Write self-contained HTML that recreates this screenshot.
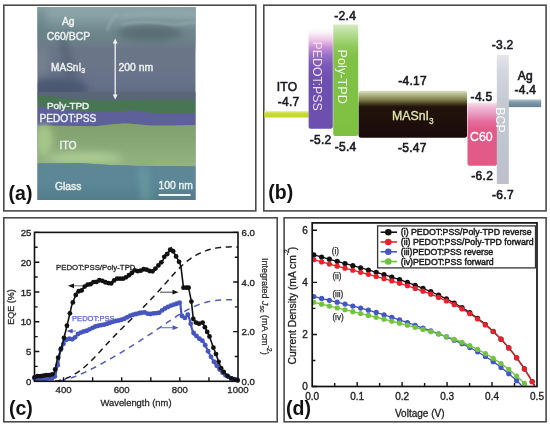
<!DOCTYPE html>
<html><head><meta charset="utf-8"><title>Figure</title><style>
html,body{margin:0;padding:0;background:#fff;}
svg{display:block;}
</style></head><body>
<svg width="550" height="430" viewBox="0 0 550 430">
<rect width="550" height="430" fill="#ffffff"/>
<g fill='none' stroke='#4a4a4a' stroke-width='1.6'><rect x='3.8' y='5.2' width='252' height='205.7'/><rect x='263.8' y='5.2' width='282.3' height='205.7'/><rect x='3.8' y='217.8' width='273.4' height='204'/><rect x='284.1' y='217.8' width='262' height='204'/></g>
<text x='8.6' y='199.6' font-family='Liberation Sans, Arial, sans-serif' font-weight='bold' font-size='19.5' fill='#111'>(a)</text>
<text x='268.3' y='199.4' font-family='Liberation Sans, Arial, sans-serif' font-weight='bold' font-size='19.5' fill='#111'>(b)</text>
<text x='8.9' y='415.1' font-family='Liberation Sans, Arial, sans-serif' font-weight='bold' font-size='19.5' fill='#111'>(c)</text>
<text x='286.0' y='415.1' font-family='Liberation Sans, Arial, sans-serif' font-weight='bold' font-size='19.5' fill='#111'>(d)</text>
<defs><linearGradient id='gTop' x1='0' y1='0' x2='0' y2='1'><stop offset='0' stop-color='#8ea6aa'/><stop offset='0.17' stop-color='#8aa2a6'/><stop offset='0.35' stop-color='#7c959a'/><stop offset='0.52' stop-color='#6e878c'/><stop offset='0.7' stop-color='#6c8289'/><stop offset='0.84' stop-color='#6c7d88' stop-opacity='0.8'/><stop offset='1' stop-color='#6a7588' stop-opacity='0'/></linearGradient><linearGradient id='gMA' x1='0' y1='0' x2='0' y2='1'><stop offset='0' stop-color='#6a7588'/><stop offset='0.3' stop-color='#6a7588'/><stop offset='0.4' stop-color='#66718a'/><stop offset='0.47' stop-color='#5c687c'/><stop offset='0.5' stop-color='#66718a'/><stop offset='1' stop-color='#66718a'/></linearGradient><linearGradient id='gITO' x1='0' y1='0' x2='0' y2='1'><stop offset='0' stop-color='#80a06e'/><stop offset='0.4' stop-color='#86a674'/><stop offset='0.75' stop-color='#8eae7c'/><stop offset='1' stop-color='#94b482'/></linearGradient><linearGradient id='gGl' x1='0' y1='0' x2='0' y2='1'><stop offset='0' stop-color='#5c8896'/><stop offset='0.5' stop-color='#5c8796'/><stop offset='1' stop-color='#527e8c'/></linearGradient></defs>
<rect x='37.5' y='7' width='158.0' height='193' fill='url(#gMA)'/>
<rect x='37.5' y='7' width='158.0' height='46' fill='url(#gTop)'/>
<defs><filter id='bl2' x='-20%' y='-50%' width='140%' height='200%'><feGaussianBlur stdDeviation='2.2'/></filter><filter id='bl3' x='-30%' y='-80%' width='160%' height='260%'><feGaussianBlur stdDeviation='3.5'/></filter><filter id='bl1' x='-20%' y='-50%' width='140%' height='200%'><feGaussianBlur stdDeviation='1.2'/></filter><clipPath id='cpa'><rect x='37.5' y='7' width='158.0' height='193'/></clipPath></defs>
<g clip-path='url(#cpa)'>
<rect x='30' y='6' width='170' height='8' fill='#8aa2a6' opacity='0.65' filter='url(#bl1)'/>
<ellipse cx='42' cy='62' rx='7' ry='16' fill='#76828f' opacity='0.9' filter='url(#bl3)'/>
<polygon points='58,38 66,38 78,80 66,80' fill='#4c586c' opacity='0.55' filter='url(#bl3)'/>
<ellipse cx='58' cy='89' rx='30' ry='11' fill='#4a5670' opacity='0.9' filter='url(#bl3)'/>
<ellipse cx='40' cy='22' rx='7' ry='14' fill='#5d7a80' opacity='0.45' filter='url(#bl3)'/>
<path d='M120,14 C135,9 150,12 165,10 C178,9 188,11 200,10 L200,18 C185,19 170,17 150,17 C138,17 128,18 120,20 Z' fill='#93aaad' opacity='0.45' filter='url(#bl1)'/>
<ellipse cx='150' cy='33' rx='32' ry='8' fill='#566a72' opacity='0.85' filter='url(#bl3)'/>
<path d='M107,31 C109,23 112,17 119,14 M121,25 C140,20 158,22 174,25 C184,24 191,22 200,22' fill='none' stroke='#9ab0b2' stroke-width='2.6' opacity='0.6' filter='url(#bl1)'/>
<polygon points='30,92 200,92 200,100 160,100 130,100.3 100,100.2 80,99.2 65,98 50,96.5 37.5,95.5 30,95.5' fill='#5a6678'/>
<polygon points='30,95.5 37.5,95.5 50,96.5 65,98 80,99.2 100,100.2 130,100.3 160,100 200,100 200,113.2 170,113.2 150,113 140,111.5 132,110.3 125,111 115,112.2 90,111.5 70,110 55,109 45,107.5 37.5,106.5 30,106.5' fill='#487655'/>
<polygon points='30,106.5 37.5,106.5 45,107.5 55,109 70,110 90,111.5 115,112.2 125,111 132,110.3 140,111.5 150,113 170,113.2 200,113.2 200,125 170,125.4 150,125.6 140,124.5 125,123.2 110,124.5 95,126.2 80,126 60,125.8 37.5,125.5 30,125.5' fill='#5e609a'/>
<polygon points='30,125.5 37.5,125.5 60,125.8 80,126 95,126.2 110,124.5 125,123.2 140,124.5 150,125.6 170,125.4 200,125 200,166.5 170,166.3 140,166 110,165 80,163.1 37.5,163.5 30,163.5' fill='url(#gITO)'/>
<ellipse cx='44' cy='140' rx='9' ry='16' fill='#a6c68a' opacity='1' filter='url(#bl3)'/>
<ellipse cx='85' cy='158' rx='38' ry='6' fill='#aacb92' opacity='1' filter='url(#bl3)'/>
<polygon points='30,163.5 37.5,163.5 80,163.1 110,165 140,166 170,166.3 200,166.5 200,200 30,200' fill='url(#gGl)'/>
<path d='M137,167 L148,167 L152,200 L141,200 Z' fill='#6a9aa0' opacity='0.8' filter='url(#bl3)'/>
</g>
<text x='62' y='25.1' font-family='Liberation Sans, Arial, sans-serif' font-size='10.3' fill='#eef3f2' stroke='#eef3f2' stroke-width='0.4' >Ag</text>
<text x='46.8' y='40.3' font-family='Liberation Sans, Arial, sans-serif' font-size='10.4' fill='#eef3f2' stroke='#eef3f2' stroke-width='0.4' >C60/BCP</text>
<text x='118.5' y='70.8' font-family='Liberation Sans, Arial, sans-serif' font-size='10.4' fill='#eef3f2' stroke='#eef3f2' stroke-width='0.4' >200 nm</text>
<text x='47' y='109.4' font-family='Liberation Sans, Arial, sans-serif' font-size='9.9' fill='#eef3f2' stroke='#eef3f2' stroke-width='0.4' >Poly-TPD</text>
<text x='39.6' y='122' font-family='Liberation Sans, Arial, sans-serif' font-size='10.1' fill='#eef3f2' stroke='#eef3f2' stroke-width='0.4' >PEDOT:PSS</text>
<text x='59.6' y='148.6' font-family='Liberation Sans, Arial, sans-serif' font-size='10.3' fill='#eef3f2' stroke='#eef3f2' stroke-width='0.4' >ITO</text>
<text x='55' y='189.8' font-family='Liberation Sans, Arial, sans-serif' font-size='10.3' fill='#eef3f2' stroke='#eef3f2' stroke-width='0.4' >Glass</text>
<text x='158.5' y='189.4' font-family='Liberation Sans, Arial, sans-serif' font-size='10.3' fill='#eef3f2' stroke='#eef3f2' stroke-width='0.4' >100 nm</text>
<text x='51' y='71.2' font-family='Liberation Sans, Arial, sans-serif' font-size='10.1' fill='#eef3f2' stroke='#eef3f2' stroke-width='0.4' >MASnI<tspan font-size='6.8' dy='2'>3</tspan></text>
<line x1='115.2' y1='41' x2='115.2' y2='97' stroke='#f2f4f4' stroke-width='1.3'/>
<polygon points='115.2,38.5 112.8,43.5 117.6,43.5' fill='#f2f4f4'/>
<polygon points='115.2,99.5 112.8,94.5 117.6,94.5' fill='#f2f4f4'/>
<rect x='158.6' y='194' width='32' height='2' fill='#f2f4f4'/>
<defs><linearGradient id='gPed' x1='0' y1='0' x2='0' y2='1'><stop offset='0' stop-color='#ffffff'/><stop offset='0.05' stop-color='#fbf0f8'/><stop offset='0.12' stop-color='#ecc6e6'/><stop offset='0.19' stop-color='#c890d6'/><stop offset='0.27' stop-color='#9670c8'/><stop offset='0.37' stop-color='#7a58b8'/><stop offset='0.51' stop-color='#6c50b0'/><stop offset='1' stop-color='#6b50b0'/></linearGradient><linearGradient id='gTpd' x1='0' y1='0' x2='0' y2='1'><stop offset='0' stop-color='#d4eabf'/><stop offset='0.1' stop-color='#b0da8a'/><stop offset='0.2' stop-color='#8ec95a'/><stop offset='0.3' stop-color='#80c145'/><stop offset='1' stop-color='#7ec142'/></linearGradient><linearGradient id='gMas' x1='0' y1='0' x2='0' y2='1'><stop offset='0' stop-color='#dcdfc8'/><stop offset='0.06' stop-color='#c0c49a'/><stop offset='0.13' stop-color='#9ea070'/><stop offset='0.2' stop-color='#7c7c48'/><stop offset='0.27' stop-color='#4a4424'/><stop offset='0.34' stop-color='#22140c'/><stop offset='1' stop-color='#1a0a0a'/></linearGradient><linearGradient id='gC60' x1='0' y1='0' x2='0' y2='1'><stop offset='0' stop-color='#f8dce8'/><stop offset='0.08' stop-color='#f0b8d4'/><stop offset='0.2' stop-color='#e892ba'/><stop offset='0.3' stop-color='#e46c9a'/><stop offset='0.42' stop-color='#e25a88'/><stop offset='1' stop-color='#e25a86'/></linearGradient><linearGradient id='gBcp' x1='0' y1='0' x2='0' y2='1'><stop offset='0' stop-color='#e4e6ea'/><stop offset='0.12' stop-color='#d4d7de'/><stop offset='0.35' stop-color='#c6cad3'/><stop offset='1' stop-color='#bcc0cb'/></linearGradient><linearGradient id='gAg' x1='0' y1='0' x2='0' y2='1'><stop offset='0' stop-color='#c4d0d8'/><stop offset='0.3' stop-color='#8aa0ae'/><stop offset='0.6' stop-color='#7490a0'/><stop offset='1' stop-color='#66818f'/></linearGradient></defs>
<defs><linearGradient id='gIto' x1='0' y1='0' x2='0' y2='1'><stop offset='0' stop-color='#e4eea8'/><stop offset='0.35' stop-color='#cbdc34'/><stop offset='1' stop-color='#c3d626'/></linearGradient></defs>
<rect x='264.3' y='111.1' width='44.3' height='6.4' fill='url(#gIto)'/>
<path d='M308.6,28 H332.8 V126.8 a2,2 0 0 1 -2,2 H310.6 a2,2 0 0 1 -2,-2 Z' fill='url(#gPed)'/>
<path d='M333.2,24.6 H358.2 V134 a2,2 0 0 1 -2,2 H335.2 a2,2 0 0 1 -2,-2 Z' fill='url(#gTpd)'/>
<rect x='358.6' y='90.7' width='108.4' height='47' rx='2.5' fill='url(#gMas)'/>
<path d='M467.5,102.7 H497 V163.8 a2,2 0 0 1 -2,2 H469.5 a2,2 0 0 1 -2,-2 Z' fill='url(#gC60)'/>
<rect x='496.8' y='55' width='12' height='129' fill='url(#gBcp)'/>
<rect x='508.8' y='99.3' width='32.4' height='7.8' fill='url(#gAg)'/>
<text x='334.3' y='20.3' font-family='Liberation Sans, Arial, sans-serif' font-size='12' fill='#1a1a22' stroke='#1a1a22' stroke-width='0.6' letter-spacing='0.3'>-2.4</text>
<text x='276.7' y='90.6' font-family='Liberation Sans, Arial, sans-serif' font-size='12' fill='#1a1a22' stroke='#1a1a22' stroke-width='0.6' letter-spacing='0.3'>ITO</text>
<text x='277.7' y='105.8' font-family='Liberation Sans, Arial, sans-serif' font-size='12' fill='#1a1a22' stroke='#1a1a22' stroke-width='0.6' letter-spacing='0.3'>-4.7</text>
<text x='309.7' y='143.9' font-family='Liberation Sans, Arial, sans-serif' font-size='12' fill='#1a1a22' stroke='#1a1a22' stroke-width='0.6' letter-spacing='0.3'>-5.2</text>
<text x='334.7' y='150.8' font-family='Liberation Sans, Arial, sans-serif' font-size='12' fill='#1a1a22' stroke='#1a1a22' stroke-width='0.6' letter-spacing='0.3'>-5.4</text>
<text x='398.2' y='85.2' font-family='Liberation Sans, Arial, sans-serif' font-size='12' fill='#1a1a22' stroke='#1a1a22' stroke-width='0.6' letter-spacing='0.3'>-4.17</text>
<text x='397.9' y='151.6' font-family='Liberation Sans, Arial, sans-serif' font-size='12' fill='#1a1a22' stroke='#1a1a22' stroke-width='0.6' letter-spacing='0.3'>-5.47</text>
<text x='470.6' y='100.6' font-family='Liberation Sans, Arial, sans-serif' font-size='12' fill='#1a1a22' stroke='#1a1a22' stroke-width='0.6' letter-spacing='0.3'>-4.5</text>
<text x='491.7' y='49' font-family='Liberation Sans, Arial, sans-serif' font-size='12' fill='#1a1a22' stroke='#1a1a22' stroke-width='0.6' letter-spacing='0.3'>-3.2</text>
<text x='517.7' y='80.2' font-family='Liberation Sans, Arial, sans-serif' font-size='12' fill='#1a1a22' stroke='#1a1a22' stroke-width='0.6' letter-spacing='0.3'>Ag</text>
<text x='514.4' y='94.4' font-family='Liberation Sans, Arial, sans-serif' font-size='12' fill='#1a1a22' stroke='#1a1a22' stroke-width='0.6' letter-spacing='0.3'>-4.4</text>
<text x='471.3' y='180.3' font-family='Liberation Sans, Arial, sans-serif' font-size='12' fill='#1a1a22' stroke='#1a1a22' stroke-width='0.6' letter-spacing='0.3'>-6.2</text>
<text x='492' y='199.3' font-family='Liberation Sans, Arial, sans-serif' font-size='12' fill='#1a1a22' stroke='#1a1a22' stroke-width='0.6' letter-spacing='0.3'>-6.7</text>
<text x='392.1' y='120.1' font-family='Liberation Sans, Arial, sans-serif' font-size='12.3' fill='#e2e8ae' stroke='#e2e8ae' stroke-width='0.3' >MASnI<tspan font-size='8.2' dy='3.6'>3</tspan></text>
<text x='470' y='141' font-family='Liberation Sans, Arial, sans-serif' font-size='12.4' fill='#ffffff' stroke='#ffffff' stroke-width='0.3' >C60</text>
<text transform='translate(496.3,107.2) rotate(90)' font-family='Liberation Sans, Arial, sans-serif' font-size='12.4' fill='#ffffff'>BCP</text>
<text transform='translate(313.4,41.6) rotate(90)' font-family='Liberation Sans, Arial, sans-serif' font-size='12.3' fill='#f4dcf2'>PEDOT:PSS</text>
<text transform='translate(337.6,49.6) rotate(90)' font-family='Liberation Sans, Arial, sans-serif' font-size='12.7' fill='#f2f8ea'>Poly-TPD</text>
<polyline points='55,381.29 55.84,381.16 56.67,381.02 57.51,380.87 58.34,380.69 59.18,380.51 60.01,380.31 60.85,380.09 61.68,379.86 62.52,379.62 63.36,379.36 64.19,379.08 65.03,378.78 65.86,378.48 66.7,378.15 67.53,377.81 68.37,377.45 69.21,377.08 70.04,376.68 70.88,376.27 71.71,375.85 72.55,375.4 73.38,374.94 74.22,374.46 75.05,373.97 75.89,373.45 76.73,372.92 77.56,372.37 78.4,371.8 79.23,371.21 80.07,370.6 80.9,369.97 81.74,369.33 82.58,368.66 83.41,367.98 84.25,367.27 85.08,366.55 85.92,365.81 86.75,365.06 87.59,364.29 88.42,363.51 89.26,362.71 90.1,361.9 90.93,361.07 91.77,360.24 92.6,359.39 93.44,358.54 94.27,357.67 95.11,356.79 95.95,355.91 96.78,355.02 97.62,354.12 98.45,353.22 99.29,352.31 100.12,351.4 100.96,350.49 101.79,349.57 102.63,348.66 103.47,347.74 104.3,346.82 105.14,345.91 105.97,344.99 106.81,344.08 107.64,343.18 108.48,342.28 109.32,341.38 110.15,340.49 110.99,339.6 111.82,338.72 112.66,337.85 113.49,336.98 114.33,336.11 115.16,335.25 116,334.39 116.84,333.54 117.67,332.69 118.51,331.84 119.34,331 120.18,330.16 121.01,329.32 121.85,328.49 122.68,327.66 123.52,326.83 124.36,326 125.19,325.17 126.03,324.35 126.86,323.52 127.7,322.7 128.53,321.88 129.37,321.06 130.21,320.24 131.04,319.41 131.88,318.59 132.71,317.77 133.55,316.95 134.38,316.13 135.22,315.31 136.05,314.49 136.89,313.66 137.73,312.83 138.56,312.01 139.4,311.18 140.23,310.34 141.07,309.51 141.9,308.67 142.74,307.83 143.58,306.99 144.41,306.15 145.25,305.3 146.08,304.44 146.92,303.59 147.75,302.73 148.59,301.86 149.42,300.99 150.26,300.12 151.1,299.24 151.93,298.35 152.77,297.47 153.6,296.57 154.44,295.67 155.27,294.77 156.11,293.86 156.95,292.95 157.78,292.03 158.62,291.11 159.45,290.18 160.29,289.25 161.12,288.32 161.96,287.39 162.79,286.45 163.63,285.5 164.47,284.56 165.3,283.61 166.14,282.65 166.97,281.7 167.81,280.74 168.64,279.79 169.48,278.84 170.32,277.89 171.15,276.94 171.99,276 172.82,275.06 173.66,274.14 174.49,273.22 175.33,272.31 176.16,271.42 177,270.53 177.84,269.66 178.67,268.81 179.51,267.97 180.34,267.15 181.18,266.35 182.01,265.56 182.85,264.8 183.68,264.06 184.52,263.33 185.36,262.63 186.19,261.94 187.03,261.27 187.86,260.62 188.7,259.99 189.53,259.38 190.37,258.79 191.21,258.21 192.04,257.65 192.88,257.11 193.71,256.58 194.55,256.07 195.38,255.58 196.22,255.11 197.05,254.65 197.89,254.2 198.73,253.78 199.56,253.36 200.4,252.97 201.23,252.58 202.07,252.22 202.9,251.86 203.74,251.52 204.58,251.2 205.41,250.89 206.25,250.59 207.08,250.31 207.92,250.04 208.75,249.78 209.59,249.54 210.42,249.3 211.26,249.08 212.1,248.88 212.93,248.68 213.77,248.5 214.6,248.32 215.44,248.16 216.27,248.01 217.11,247.87 217.95,247.74 218.78,247.62 219.62,247.51 220.45,247.42 221.29,247.33 222.12,247.25 222.96,247.17 223.79,247.11 224.63,247.06 225.47,247.01 226.3,246.97 227.14,246.94 227.97,246.91 228.81,246.89 229.64,246.88 230.48,246.87 231.32,246.87 232.15,246.87 232.99,246.88 233.82,246.89 234.66,246.91 235.49,246.93 236.33,246.95 237.16,246.98 238,247.01' fill='none' stroke='#1a1a1a' stroke-width='1.5' stroke-dasharray='6 4.6'/>
<polyline points='60,380.87 60.81,380.72 61.63,380.55 62.44,380.38 63.25,380.2 64.06,380.01 64.88,379.8 65.69,379.59 66.5,379.37 67.32,379.14 68.13,378.9 68.94,378.65 69.75,378.4 70.57,378.13 71.38,377.86 72.19,377.58 73,377.29 73.82,377 74.63,376.7 75.44,376.39 76.26,376.07 77.07,375.75 77.88,375.42 78.69,375.08 79.51,374.74 80.32,374.39 81.13,374.03 81.95,373.67 82.76,373.31 83.57,372.93 84.38,372.56 85.2,372.17 86.01,371.79 86.82,371.4 87.63,371 88.45,370.6 89.26,370.2 90.07,369.79 90.89,369.38 91.7,368.96 92.51,368.54 93.32,368.12 94.14,367.69 94.95,367.27 95.76,366.83 96.58,366.4 97.39,365.97 98.2,365.53 99.01,365.09 99.83,364.65 100.64,364.2 101.45,363.76 102.26,363.31 103.08,362.86 103.89,362.41 104.7,361.96 105.52,361.51 106.33,361.05 107.14,360.6 107.95,360.14 108.77,359.68 109.58,359.22 110.39,358.76 111.21,358.29 112.02,357.83 112.83,357.36 113.64,356.89 114.46,356.42 115.27,355.95 116.08,355.47 116.89,355 117.71,354.52 118.52,354.04 119.33,353.56 120.15,353.08 120.96,352.6 121.77,352.11 122.58,351.62 123.4,351.14 124.21,350.65 125.02,350.15 125.84,349.66 126.65,349.17 127.46,348.67 128.27,348.17 129.09,347.67 129.9,347.17 130.71,346.67 131.53,346.16 132.34,345.66 133.15,345.15 133.96,344.64 134.78,344.13 135.59,343.62 136.4,343.1 137.21,342.59 138.03,342.07 138.84,341.55 139.65,341.03 140.47,340.51 141.28,339.99 142.09,339.46 142.9,338.94 143.72,338.41 144.53,337.88 145.34,337.35 146.16,336.81 146.97,336.28 147.78,335.74 148.59,335.21 149.41,334.67 150.22,334.12 151.03,333.58 151.84,333.04 152.66,332.49 153.47,331.95 154.28,331.4 155.1,330.85 155.91,330.29 156.72,329.74 157.53,329.19 158.35,328.63 159.16,328.07 159.97,327.51 160.79,326.95 161.6,326.39 162.41,325.83 163.22,325.27 164.04,324.71 164.85,324.15 165.66,323.59 166.47,323.03 167.29,322.47 168.1,321.91 168.91,321.36 169.73,320.81 170.54,320.26 171.35,319.71 172.16,319.17 172.98,318.63 173.79,318.09 174.6,317.55 175.42,317.02 176.23,316.5 177.04,315.98 177.85,315.46 178.67,314.95 179.48,314.44 180.29,313.94 181.11,313.45 181.92,312.96 182.73,312.48 183.54,312 184.36,311.54 185.17,311.08 185.98,310.62 186.79,310.18 187.61,309.74 188.42,309.31 189.23,308.89 190.05,308.48 190.86,308.08 191.67,307.68 192.48,307.3 193.3,306.92 194.11,306.56 194.92,306.2 195.74,305.85 196.55,305.51 197.36,305.18 198.17,304.86 198.99,304.55 199.8,304.26 200.61,303.97 201.42,303.69 202.24,303.42 203.05,303.16 203.86,302.91 204.68,302.67 205.49,302.44 206.3,302.22 207.11,302.02 207.93,301.82 208.74,301.63 209.55,301.46 210.37,301.3 211.18,301.14 211.99,301 212.8,300.86 213.62,300.74 214.43,300.62 215.24,300.52 216.05,300.42 216.87,300.33 217.68,300.25 218.49,300.17 219.31,300.11 220.12,300.05 220.93,300 221.74,299.95 222.56,299.91 223.37,299.88 224.18,299.86 225,299.84 225.81,299.82 226.62,299.81 227.43,299.81 228.25,299.81 229.06,299.81 229.87,299.82 230.68,299.83 231.5,299.85 232.31,299.87 233.12,299.89 233.94,299.92 234.75,299.95 235.56,299.98 236.37,300.01 237.19,300.04 238,300.08' fill='none' stroke='#4e5bc0' stroke-width='1.5' stroke-dasharray='6 5'/>
<polyline points='34.4,378.4 38.8,378.4 43.3,379.3 47.7,378.4 52.1,378.4 55.4,376.2 56.5,369.6 58.3,362.9 59.8,353 60.9,348.6 63.1,345.2 64.4,340.8 68.8,338.6 73.3,339.5 77.7,334.2 82.1,332 86.5,330.9 90.9,328.7 95.4,326.5 99.8,325.4 104.9,324.5 109.8,322.8 114.7,321.2 119.6,320.4 124.5,318.7 129.5,316 134.4,314.3 139.3,313.3 144.2,312.2 149.1,314.3 154,313.3 158.9,313 163,309.7 167.1,307.3 172,305.1 176.1,304 180.2,302.4 181.6,315.6 182.8,316.7 185.1,318 188.1,314.4 189.8,320.2 192.1,329.5 194.4,334.9 197.4,336.5 199.4,338.8 203.2,341.3 205.8,346.5 208.3,351.6 210.9,356.7 214.7,363.1 218.6,368.2 222.4,372.5 226.2,375.8 231.3,378.4 236.5,379.7 238,380' fill='none' stroke='#4755bf' stroke-width='2.2'/>
<g fill='#4755bf'><circle cx='34.5' cy='378.4' r='2.45'/><circle cx='37.4' cy='378.4' r='2.45'/><circle cx='40.3' cy='378.7' r='2.45'/><circle cx='43.2' cy='379.28' r='2.45'/><circle cx='46.1' cy='378.73' r='2.45'/><circle cx='49' cy='378.4' r='2.45'/><circle cx='51.9' cy='378.4' r='2.45'/><circle cx='54.8' cy='376.6' r='2.45'/><circle cx='57.7' cy='365.13' r='2.45'/><circle cx='60.6' cy='349.8' r='2.45'/><circle cx='63.5' cy='343.85' r='2.45'/><circle cx='66.4' cy='339.8' r='2.45'/><circle cx='69.3' cy='338.7' r='2.45'/><circle cx='72.2' cy='339.28' r='2.45'/><circle cx='75.1' cy='337.33' r='2.45'/><circle cx='78' cy='334.05' r='2.45'/><circle cx='80.9' cy='332.6' r='2.45'/><circle cx='83.8' cy='331.57' r='2.45'/><circle cx='86.7' cy='330.8' r='2.45'/><circle cx='89.6' cy='329.35' r='2.45'/><circle cx='92.5' cy='327.92' r='2.45'/><circle cx='95.4' cy='326.5' r='2.45'/><circle cx='98.3' cy='325.77' r='2.45'/><circle cx='101.2' cy='325.15' r='2.45'/><circle cx='104.1' cy='324.64' r='2.45'/><circle cx='107' cy='323.77' r='2.45'/><circle cx='109.9' cy='322.77' r='2.45'/><circle cx='112.8' cy='321.82' r='2.45'/><circle cx='115.7' cy='321.04' r='2.45'/><circle cx='118.6' cy='320.56' r='2.45'/><circle cx='121.5' cy='319.74' r='2.45'/><circle cx='124.4' cy='318.73' r='2.45'/><circle cx='127.3' cy='317.19' r='2.45'/><circle cx='130.2' cy='315.76' r='2.45'/><circle cx='133.1' cy='314.75' r='2.45'/><circle cx='136' cy='313.97' r='2.45'/><circle cx='138.9' cy='313.38' r='2.45'/><circle cx='141.8' cy='312.74' r='2.45'/><circle cx='144.7' cy='312.41' r='2.45'/><circle cx='147.6' cy='313.66' r='2.45'/><circle cx='150.5' cy='314.01' r='2.45'/><circle cx='153.4' cy='313.42' r='2.45'/><circle cx='156.3' cy='313.16' r='2.45'/><circle cx='159.2' cy='312.76' r='2.45'/><circle cx='162.1' cy='310.42' r='2.45'/><circle cx='165' cy='308.53' r='2.45'/><circle cx='167.9' cy='306.94' r='2.45'/><circle cx='170.8' cy='305.64' r='2.45'/><circle cx='173.7' cy='304.64' r='2.45'/><circle cx='176.6' cy='303.8' r='2.45'/><circle cx='179.5' cy='302.67' r='2.45'/><circle cx='182' cy='315.97' r='2.45'/><circle cx='184.9' cy='317.89' r='2.45'/><circle cx='187.8' cy='314.76' r='2.45'/><circle cx='190.7' cy='323.84' r='2.45'/><circle cx='193.6' cy='333.02' r='2.45'/><circle cx='196.5' cy='336.02' r='2.45'/><circle cx='199.4' cy='338.8' r='2.45'/><circle cx='202.3' cy='340.71' r='2.45'/><circle cx='205.2' cy='345.3' r='2.45'/><circle cx='208.1' cy='351.19' r='2.45'/><circle cx='211' cy='356.87' r='2.45'/><circle cx='213.9' cy='361.75' r='2.45'/><circle cx='216.8' cy='365.85' r='2.45'/><circle cx='219.7' cy='369.44' r='2.45'/><circle cx='222.6' cy='372.67' r='2.45'/><circle cx='225.5' cy='375.19' r='2.45'/><circle cx='228.4' cy='376.92' r='2.45'/><circle cx='231.3' cy='378.4' r='2.45'/><circle cx='234.2' cy='379.12' r='2.45'/><circle cx='237.1' cy='379.82' r='2.45'/></g>
<polyline points='34.5,377.3 36.6,376.2 41,376.2 45.5,375.1 49.9,375.1 53.9,374 55.4,368.5 57,360.7 59.8,353 62.7,343 64.9,334.2 67.6,323.1 70.2,312.1 71.6,305.8 74.6,297.7 77.6,290.9 80.7,291.8 83.6,287.7 86.7,284.4 89.5,285.3 92.8,281.9 95.5,282.5 98.3,280.7 100.6,279.8 104.3,282 108,283 111.8,283.5 115.5,278.7 119.2,278.7 122.9,278.7 126,277.3 129.1,275.1 132.1,272.8 135.1,270.1 138.1,271.3 141.2,270.5 144.2,269 147.2,269.8 150.2,271.3 153.3,271.3 156.3,267.5 158.6,265.2 160.8,263 163.1,260 165.1,254.7 167.6,253.9 171.3,248 174.7,254 177.4,258.6 179.8,263.3 180.9,266.7 183.5,287.7 186.3,287.7 188.6,287.7 191.4,301.6 193.3,319 196,322.6 199,323.7 202.6,322.6 204.9,327.2 207.2,331.9 209.5,336.5 213.4,347.7 216,354.1 218.6,361.8 221.1,368.2 223.7,372 227.5,375.8 231.3,378.4 234.5,379.6 237.7,380.4' fill='none' stroke='#111' stroke-width='1.6'/>
<g fill='#111'><circle cx='34.5' cy='377.3' r='2.4'/><circle cx='37.45' cy='376.2' r='2.4'/><circle cx='40.4' cy='376.2' r='2.4'/><circle cx='43.35' cy='375.63' r='2.4'/><circle cx='46.3' cy='375.1' r='2.4'/><circle cx='49.25' cy='375.1' r='2.4'/><circle cx='52.2' cy='374.47' r='2.4'/><circle cx='55.15' cy='369.42' r='2.4'/><circle cx='58.1' cy='357.67' r='2.4'/><circle cx='61.05' cy='348.69' r='2.4'/><circle cx='64' cy='337.8' r='2.4'/><circle cx='66.95' cy='325.77' r='2.4'/><circle cx='69.9' cy='313.37' r='2.4'/><circle cx='72.85' cy='302.42' r='2.4'/><circle cx='75.8' cy='294.98' r='2.4'/><circle cx='78.75' cy='291.23' r='2.4'/><circle cx='81.7' cy='290.39' r='2.4'/><circle cx='84.65' cy='286.58' r='2.4'/><circle cx='87.6' cy='284.69' r='2.4'/><circle cx='90.55' cy='284.22' r='2.4'/><circle cx='93.5' cy='282.06' r='2.4'/><circle cx='96.45' cy='281.89' r='2.4'/><circle cx='99.4' cy='280.27' r='2.4'/><circle cx='102.35' cy='280.84' r='2.4'/><circle cx='105.3' cy='282.27' r='2.4'/><circle cx='108.25' cy='283.03' r='2.4'/><circle cx='111.2' cy='283.42' r='2.4'/><circle cx='114.15' cy='280.45' r='2.4'/><circle cx='117.1' cy='278.7' r='2.4'/><circle cx='120.05' cy='278.7' r='2.4'/><circle cx='123' cy='278.65' r='2.4'/><circle cx='125.95' cy='277.32' r='2.4'/><circle cx='128.9' cy='275.24' r='2.4'/><circle cx='131.85' cy='272.99' r='2.4'/><circle cx='134.8' cy='270.37' r='2.4'/><circle cx='137.75' cy='271.16' r='2.4'/><circle cx='140.7' cy='270.63' r='2.4'/><circle cx='143.65' cy='269.27' r='2.4'/><circle cx='146.6' cy='269.64' r='2.4'/><circle cx='149.55' cy='270.98' r='2.4'/><circle cx='152.5' cy='271.3' r='2.4'/><circle cx='155.45' cy='268.58' r='2.4'/><circle cx='158.4' cy='265.4' r='2.4'/><circle cx='161.35' cy='262.28' r='2.4'/><circle cx='164.3' cy='256.82' r='2.4'/><circle cx='167.25' cy='254.01' r='2.4'/><circle cx='170.2' cy='249.75' r='2.4'/><circle cx='173.15' cy='251.26' r='2.4'/><circle cx='176.1' cy='256.39' r='2.4'/><circle cx='179.05' cy='261.83' r='2.4'/><circle cx='183.5' cy='287.7' r='2.4'/><circle cx='186.3' cy='287.7' r='2.4'/><circle cx='188.6' cy='287.7' r='2.4'/><circle cx='191.4' cy='301.6' r='2.4'/><circle cx='193.3' cy='319' r='2.4'/><circle cx='196' cy='322.6' r='2.4'/><circle cx='199' cy='323.7' r='2.4'/><circle cx='202.6' cy='322.6' r='2.4'/><circle cx='204.9' cy='327.2' r='2.4'/><circle cx='207.2' cy='331.9' r='2.4'/><circle cx='209.5' cy='336.5' r='2.4'/><circle cx='213.4' cy='347.7' r='2.4'/><circle cx='216' cy='354.1' r='2.4'/><circle cx='218.6' cy='361.8' r='2.4'/><circle cx='221.1' cy='368.2' r='2.4'/><circle cx='223.7' cy='372' r='2.4'/><circle cx='227.5' cy='375.8' r='2.4'/><circle cx='231.3' cy='378.4' r='2.4'/><circle cx='234.5' cy='379.6' r='2.4'/><circle cx='237.7' cy='380.4' r='2.4'/></g>
<line x1='83' y1='285.8' x2='72.5' y2='285.8' stroke='#777' stroke-width='1.1'/><polygon points='68,285.8 74,283.40000000000003 74,288.2' fill='#111'/>
<line x1='160' y1='292.2' x2='174.0' y2='292.2' stroke='#555' stroke-width='1.1'/><polygon points='178.5,292.2 172.5,289.8 172.5,294.59999999999997' fill='#111'/>
<line x1='75.8' y1='331.1' x2='71.1' y2='331.1' stroke='#6a78d0' stroke-width='1.1'/><polygon points='66.6,331.1 72.6,328.70000000000005 72.6,333.5' fill='#4755bf'/>
<line x1='160.6' y1='327.7' x2='174.1' y2='327.7' stroke='#6a78d0' stroke-width='1.1'/><polygon points='178.6,327.7 172.6,325.3 172.6,330.09999999999997' fill='#4755bf'/>
<rect x='34.5' y='232.4' width='203.5' height='148.9' fill='none' stroke='#111' stroke-width='1.6'/>
<path d='M34.5,381.3h4.8 M34.5,366.41h3.2 M34.5,351.52h4.8 M34.5,336.63h3.2 M34.5,321.74h4.8 M34.5,306.85h3.2 M34.5,291.96h4.8 M34.5,277.07h3.2 M34.5,262.18h4.8 M34.5,247.29h3.2 M34.5,232.4h4.8 M238.0,381.3h-4.8 M238.0,356.48h-3.2 M238.0,331.67h-4.8 M238.0,306.85h-3.2 M238.0,282.03h-4.8 M238.0,257.22h-3.2 M238.0,232.4h-4.8 M63.57,381.3v-4 M92.64,381.3v-4 M121.71,381.3v-4 M150.79,381.3v-4 M179.86,381.3v-4 M208.93,381.3v-4' stroke='#111' stroke-width='1.4' fill='none'/>
<text x='31.3' y='384.9' font-family='Liberation Sans, Arial, sans-serif' font-size='9.6' fill='#2a2a2a' stroke='#2a2a2a' stroke-width='0.38' text-anchor='end'>0</text>
<text x='31.3' y='355.12' font-family='Liberation Sans, Arial, sans-serif' font-size='9.6' fill='#2a2a2a' stroke='#2a2a2a' stroke-width='0.38' text-anchor='end'>5</text>
<text x='31.3' y='325.34' font-family='Liberation Sans, Arial, sans-serif' font-size='9.6' fill='#2a2a2a' stroke='#2a2a2a' stroke-width='0.38' text-anchor='end'>10</text>
<text x='31.3' y='295.56' font-family='Liberation Sans, Arial, sans-serif' font-size='9.6' fill='#2a2a2a' stroke='#2a2a2a' stroke-width='0.38' text-anchor='end'>15</text>
<text x='31.3' y='265.78' font-family='Liberation Sans, Arial, sans-serif' font-size='9.6' fill='#2a2a2a' stroke='#2a2a2a' stroke-width='0.38' text-anchor='end'>20</text>
<text x='31.3' y='236' font-family='Liberation Sans, Arial, sans-serif' font-size='9.6' fill='#2a2a2a' stroke='#2a2a2a' stroke-width='0.38' text-anchor='end'>25</text>
<text x='241.6' y='384.9' font-family='Liberation Sans, Arial, sans-serif' font-size='9.6' fill='#2a2a2a' stroke='#2a2a2a' stroke-width='0.38' >0.0</text>
<text x='241.6' y='335.27' font-family='Liberation Sans, Arial, sans-serif' font-size='9.6' fill='#2a2a2a' stroke='#2a2a2a' stroke-width='0.38' >2.0</text>
<text x='241.6' y='285.63' font-family='Liberation Sans, Arial, sans-serif' font-size='9.6' fill='#2a2a2a' stroke='#2a2a2a' stroke-width='0.38' >4.0</text>
<text x='241.6' y='236' font-family='Liberation Sans, Arial, sans-serif' font-size='9.6' fill='#2a2a2a' stroke='#2a2a2a' stroke-width='0.38' >6.0</text>
<text x='63.57' y='393' font-family='Liberation Sans, Arial, sans-serif' font-size='9.6' fill='#2a2a2a' stroke='#2a2a2a' stroke-width='0.35' text-anchor='middle'>400</text>
<text x='121.71' y='393' font-family='Liberation Sans, Arial, sans-serif' font-size='9.6' fill='#2a2a2a' stroke='#2a2a2a' stroke-width='0.35' text-anchor='middle'>600</text>
<text x='179.86' y='393' font-family='Liberation Sans, Arial, sans-serif' font-size='9.6' fill='#2a2a2a' stroke='#2a2a2a' stroke-width='0.35' text-anchor='middle'>800</text>
<text x='238' y='393' font-family='Liberation Sans, Arial, sans-serif' font-size='9.6' fill='#2a2a2a' stroke='#2a2a2a' stroke-width='0.35' text-anchor='middle'>1000</text>
<text x='136' y='406.3' font-family='Liberation Sans, Arial, sans-serif' font-size='9.4' fill='#2a2a2a' stroke='#2a2a2a' stroke-width='0.3' text-anchor='middle'>Wavelength (nm)</text>
<text transform='translate(13.7,307) rotate(-90)' text-anchor='middle' font-family='Liberation Sans, Arial, sans-serif' font-size='9.0' fill='#2a2a2a' stroke='#2a2a2a' stroke-width='0.3'>EQE (%)</text>
<text transform='translate(261.8,257.9) rotate(90)' font-family='Liberation Sans, Arial, sans-serif' font-size='9' fill='#2a2a2a' stroke='#2a2a2a' stroke-width='0.25'>Integrated <tspan font-style='italic'>J</tspan><tspan font-size='7' dy='1.8'>sc</tspan><tspan dy='-1.8'> (mA cm</tspan><tspan font-size='7' dy='-5'>-2</tspan><tspan dy='5'>)</tspan></text>
<text x='56' y='270.2' font-family='Liberation Sans, Arial, sans-serif' font-size='7.9' fill='#2a2a2a' stroke='#2a2a2a' stroke-width='0.3' textLength='79.5' lengthAdjust='spacingAndGlyphs'>PEDOT:PSS/Poly-TPD</text>
<text x='72' y='321.2' font-family='Liberation Sans, Arial, sans-serif' font-size='7.6' fill='#5a66c8' stroke='#5a66c8' stroke-width='0.25' >PEDOT:PSS</text>
<clipPath id='cpd'><rect x='312.2' y='222.9' width='224.8' height='163.6'/></clipPath>
<g clip-path='url(#cpd)'>
<polyline points='312.2,254.38 313.6,254.78 315,255.18 316.4,255.58 317.79,255.98 319.19,256.38 320.59,256.77 321.99,257.17 323.39,257.56 324.79,257.95 326.19,258.34 327.59,258.72 328.98,259.11 330.38,259.5 331.78,259.88 333.18,260.26 334.58,260.65 335.98,261.03 337.38,261.41 338.78,261.79 340.17,262.17 341.57,262.56 342.97,262.94 344.37,263.32 345.77,263.7 347.17,264.08 348.57,264.47 349.97,264.85 351.36,265.23 352.76,265.62 354.16,266 355.56,266.39 356.96,266.78 358.36,267.16 359.76,267.55 361.16,267.95 362.55,268.34 363.95,268.73 365.35,269.13 366.75,269.53 368.15,269.93 369.55,270.33 370.95,270.73 372.35,271.14 373.74,271.55 375.14,271.96 376.54,272.38 377.94,272.79 379.34,273.21 380.74,273.64 382.14,274.06 383.54,274.49 384.93,274.92 386.33,275.36 387.73,275.8 389.13,276.24 390.53,276.69 391.93,277.14 393.33,277.59 394.73,278.05 396.12,278.51 397.52,278.98 398.92,279.45 400.32,279.93 401.72,280.41 403.12,280.89 404.52,281.39 405.92,281.88 407.31,282.38 408.71,282.89 410.11,283.4 411.51,283.91 412.91,284.43 414.31,284.96 415.71,285.49 417.11,286.03 418.5,286.58 419.9,287.13 421.3,287.69 422.7,288.25 424.1,288.82 425.5,289.39 426.9,289.98 428.3,290.57 429.69,291.16 431.09,291.77 432.49,292.38 433.89,292.99 435.29,293.62 436.69,294.25 438.09,294.9 439.49,295.55 440.88,296.21 442.28,296.88 443.68,297.56 445.08,298.25 446.48,298.95 447.88,299.67 449.28,300.39 450.68,301.13 452.07,301.88 453.47,302.65 454.87,303.42 456.27,304.21 457.67,305.02 459.07,305.84 460.47,306.67 461.87,307.52 463.26,308.39 464.66,309.27 466.06,310.17 467.46,311.08 468.86,312.01 470.26,312.96 471.66,313.93 473.06,314.92 474.45,315.92 475.85,316.95 477.25,317.99 478.65,319.05 480.05,320.14 481.45,321.24 482.85,322.37 484.25,323.52 485.64,324.69 487.04,325.88 488.44,327.1 489.84,328.34 491.24,329.61 492.64,330.9 494.04,332.22 495.44,333.56 496.83,334.94 498.23,336.34 499.63,337.77 501.03,339.24 502.43,340.73 503.83,342.26 505.23,343.82 506.63,345.42 508.02,347.05 509.42,348.71 510.82,350.41 512.22,352.15 513.62,353.93 515.02,355.74 516.42,357.59 517.82,359.49 519.21,361.42 520.61,363.4 522.01,365.42 523.41,367.48 524.81,369.59 526.21,371.74 527.61,373.94 529.01,376.18 530.4,378.48 531.8,380.82 533.2,383.21 534.6,385.64' fill='none' stroke='#111' stroke-width='1.3'/><g fill='#111'><circle cx='313.8' cy='254.84' r='2.6'/><circle cx='321.6' cy='257.06' r='2.6'/><circle cx='329.4' cy='259.22' r='2.6'/><circle cx='337.2' cy='261.36' r='2.6'/><circle cx='345' cy='263.49' r='2.6'/><circle cx='352.8' cy='265.63' r='2.6'/><circle cx='360.6' cy='267.79' r='2.6'/><circle cx='368.4' cy='270' r='2.6'/><circle cx='376.2' cy='272.27' r='2.6'/><circle cx='384' cy='274.63' r='2.6'/><circle cx='391.8' cy='277.1' r='2.6'/><circle cx='399.6' cy='279.68' r='2.6'/><circle cx='407.4' cy='282.41' r='2.6'/><circle cx='415.2' cy='285.3' r='2.6'/><circle cx='423' cy='288.37' r='2.6'/><circle cx='430.8' cy='291.64' r='2.6'/><circle cx='438.6' cy='295.13' r='2.6'/><circle cx='446.4' cy='298.91' r='2.6'/><circle cx='454.2' cy='303.05' r='2.6'/><circle cx='462' cy='307.6' r='2.6'/><circle cx='469.8' cy='312.65' r='2.6'/><circle cx='477.6' cy='318.25' r='2.6'/><circle cx='485.4' cy='324.48' r='2.6'/><circle cx='493.2' cy='331.42' r='2.6'/><circle cx='501' cy='339.21' r='2.6'/><circle cx='508.8' cy='347.96' r='2.6'/><circle cx='516.6' cy='357.84' r='2.6'/><circle cx='524.4' cy='368.97' r='2.6'/><circle cx='532.2' cy='381.49' r='2.6'/></g>
<polyline points='312.2,259.18 313.6,259.59 314.99,260 316.39,260.4 317.79,260.8 319.18,261.2 320.58,261.6 321.98,261.99 323.37,262.38 324.77,262.77 326.17,263.16 327.57,263.54 328.96,263.92 330.36,264.3 331.76,264.68 333.15,265.06 334.55,265.43 335.95,265.81 337.34,266.18 338.74,266.55 340.14,266.92 341.53,267.29 342.93,267.66 344.33,268.03 345.72,268.4 347.12,268.76 348.52,269.13 349.92,269.49 351.31,269.86 352.71,270.23 354.11,270.59 355.5,270.96 356.9,271.32 358.3,271.69 359.69,272.06 361.09,272.42 362.49,272.79 363.88,273.16 365.28,273.53 366.68,273.9 368.07,274.28 369.47,274.65 370.87,275.03 372.26,275.41 373.66,275.78 375.06,276.17 376.46,276.55 377.85,276.93 379.25,277.32 380.65,277.71 382.04,278.1 383.44,278.5 384.84,278.89 386.23,279.29 387.63,279.69 389.03,280.1 390.42,280.51 391.82,280.92 393.22,281.34 394.61,281.76 396.01,282.18 397.41,282.6 398.81,283.03 400.2,283.47 401.6,283.91 403,284.35 404.39,284.79 405.79,285.25 407.19,285.7 408.58,286.16 409.98,286.63 411.38,287.1 412.77,287.57 414.17,288.05 415.57,288.53 416.96,289.03 418.36,289.52 419.76,290.02 421.15,290.53 422.55,291.04 423.95,291.56 425.35,292.09 426.74,292.62 428.14,293.15 429.54,293.7 430.93,294.25 432.33,294.81 433.73,295.37 435.12,295.94 436.52,296.52 437.92,297.11 439.31,297.7 440.71,298.31 442.11,298.92 443.5,299.55 444.9,300.18 446.3,300.83 447.69,301.49 449.09,302.15 450.49,302.84 451.89,303.53 453.28,304.23 454.68,304.95 456.08,305.68 457.47,306.43 458.87,307.19 460.27,307.97 461.66,308.76 463.06,309.56 464.46,310.39 465.85,311.23 467.25,312.08 468.65,312.95 470.04,313.84 471.44,314.75 472.84,315.68 474.24,316.63 475.63,317.59 477.03,318.58 478.43,319.58 479.82,320.61 481.22,321.66 482.62,322.72 484.01,323.81 485.41,324.93 486.81,326.06 488.2,327.22 489.6,328.41 491,329.62 492.39,330.85 493.79,332.12 495.19,333.41 496.58,334.74 497.98,336.09 499.38,337.48 500.78,338.9 502.17,340.36 503.57,341.85 504.97,343.37 506.36,344.94 507.76,346.54 509.16,348.18 510.55,349.86 511.95,351.59 513.35,353.35 514.74,355.16 516.14,357.01 517.54,358.91 518.93,360.85 520.33,362.85 521.73,364.89 523.13,366.97 524.52,369.11 525.92,371.31 527.32,373.55 528.71,375.85 530.11,378.2 531.51,380.61 532.9,383.07 534.3,385.59' fill='none' stroke='#e01f2a' stroke-width='1.3'/><g fill='#ec1f2c'><circle cx='313.8' cy='259.65' r='2.6'/><circle cx='321.6' cy='261.88' r='2.6'/><circle cx='329.4' cy='264.04' r='2.6'/><circle cx='337.2' cy='266.14' r='2.6'/><circle cx='345' cy='268.2' r='2.6'/><circle cx='352.8' cy='270.25' r='2.6'/><circle cx='360.6' cy='272.3' r='2.6'/><circle cx='368.4' cy='274.36' r='2.6'/><circle cx='376.2' cy='276.48' r='2.6'/><circle cx='384' cy='278.65' r='2.6'/><circle cx='391.8' cy='280.92' r='2.6'/><circle cx='399.6' cy='283.28' r='2.6'/><circle cx='407.4' cy='285.77' r='2.6'/><circle cx='415.2' cy='288.41' r='2.6'/><circle cx='423' cy='291.21' r='2.6'/><circle cx='430.8' cy='294.2' r='2.6'/><circle cx='438.6' cy='297.4' r='2.6'/><circle cx='446.4' cy='300.88' r='2.6'/><circle cx='454.2' cy='304.7' r='2.6'/><circle cx='462' cy='308.95' r='2.6'/><circle cx='469.8' cy='313.69' r='2.6'/><circle cx='477.6' cy='318.99' r='2.6'/><circle cx='485.4' cy='324.92' r='2.6'/><circle cx='493.2' cy='331.58' r='2.6'/><circle cx='501' cy='339.13' r='2.6'/><circle cx='508.8' cy='347.76' r='2.6'/><circle cx='516.6' cy='357.63' r='2.6'/><circle cx='524.4' cy='368.93' r='2.6'/><circle cx='532.2' cy='381.82' r='2.6'/></g>
<polyline points='312.2,296.11 313.52,296.44 314.85,296.77 316.17,297.11 317.5,297.44 318.82,297.76 320.15,298.09 321.47,298.42 322.8,298.74 324.12,299.06 325.45,299.38 326.77,299.71 328.09,300.03 329.42,300.35 330.74,300.67 332.07,300.98 333.39,301.3 334.72,301.62 336.04,301.94 337.37,302.26 338.69,302.58 340.02,302.9 341.34,303.23 342.66,303.55 343.99,303.87 345.31,304.2 346.64,304.52 347.96,304.85 349.29,305.18 350.61,305.51 351.94,305.85 353.26,306.18 354.58,306.52 355.91,306.86 357.23,307.2 358.56,307.55 359.88,307.9 361.21,308.25 362.53,308.6 363.86,308.96 365.18,309.32 366.51,309.68 367.83,310.05 369.15,310.42 370.48,310.8 371.8,311.18 373.13,311.56 374.45,311.95 375.78,312.34 377.1,312.74 378.43,313.13 379.75,313.53 381.08,313.94 382.4,314.35 383.72,314.76 385.05,315.17 386.37,315.59 387.7,316.01 389.02,316.43 390.35,316.86 391.67,317.29 393,317.72 394.32,318.15 395.65,318.59 396.97,319.03 398.29,319.47 399.62,319.92 400.94,320.36 402.27,320.81 403.59,321.26 404.92,321.71 406.24,322.17 407.57,322.63 408.89,323.09 410.22,323.55 411.54,324.01 412.86,324.47 414.19,324.94 415.51,325.41 416.84,325.88 418.16,326.35 419.49,326.82 420.81,327.29 422.14,327.76 423.46,328.24 424.78,328.72 426.11,329.19 427.43,329.67 428.76,330.16 430.08,330.64 431.41,331.13 432.73,331.62 434.06,332.11 435.38,332.61 436.71,333.11 438.03,333.61 439.35,334.12 440.68,334.63 442,335.15 443.33,335.67 444.65,336.2 445.98,336.73 447.3,337.27 448.63,337.82 449.95,338.37 451.28,338.93 452.6,339.5 453.92,340.07 455.25,340.65 456.57,341.24 457.9,341.84 459.22,342.44 460.55,343.05 461.87,343.68 463.2,344.31 464.52,344.95 465.85,345.6 467.17,346.26 468.49,346.93 469.82,347.61 471.14,348.31 472.47,349.01 473.79,349.72 475.12,350.45 476.44,351.19 477.77,351.94 479.09,352.7 480.42,353.48 481.74,354.27 483.06,355.07 484.39,355.89 485.71,356.72 487.04,357.56 488.36,358.42 489.69,359.29 491.01,360.18 492.34,361.08 493.66,362 494.98,362.93 496.31,363.88 497.63,364.85 498.96,365.83 500.28,366.83 501.61,367.85 502.93,368.89 504.26,369.94 505.58,371.01 506.91,372.1 508.23,373.2 509.55,374.33 510.88,375.47 512.2,376.64 513.53,377.82 514.85,379.03 516.18,380.25 517.5,381.49 518.83,382.76 520.15,384.04 521.48,385.35 522.8,386.68' fill='none' stroke='#3c4fc0' stroke-width='1.3'/><g fill='#4456c6'><circle cx='313.8' cy='296.51' r='2.6'/><circle cx='321.6' cy='298.45' r='2.6'/><circle cx='329.4' cy='300.34' r='2.6'/><circle cx='337.2' cy='302.22' r='2.6'/><circle cx='345' cy='304.12' r='2.6'/><circle cx='352.8' cy='306.07' r='2.6'/><circle cx='360.6' cy='308.09' r='2.6'/><circle cx='368.4' cy='310.21' r='2.6'/><circle cx='376.2' cy='312.47' r='2.6'/><circle cx='384' cy='314.84' r='2.6'/><circle cx='391.8' cy='317.33' r='2.6'/><circle cx='399.6' cy='319.91' r='2.6'/><circle cx='407.4' cy='322.57' r='2.6'/><circle cx='415.2' cy='325.3' r='2.6'/><circle cx='423' cy='328.07' r='2.6'/><circle cx='430.8' cy='330.9' r='2.6'/><circle cx='438.6' cy='333.83' r='2.6'/><circle cx='446.4' cy='336.91' r='2.6'/><circle cx='454.2' cy='340.19' r='2.6'/><circle cx='462' cy='343.74' r='2.6'/><circle cx='469.8' cy='347.6' r='2.6'/><circle cx='477.6' cy='351.85' r='2.6'/><circle cx='485.4' cy='356.52' r='2.6'/><circle cx='493.2' cy='361.68' r='2.6'/><circle cx='501' cy='367.38' r='2.6'/><circle cx='508.8' cy='373.69' r='2.6'/><circle cx='516.6' cy='380.64' r='2.6'/></g>
<polyline points='312.2,301.85 313.55,302.18 314.9,302.51 316.25,302.85 317.59,303.17 318.94,303.5 320.29,303.83 321.64,304.16 322.99,304.49 324.34,304.81 325.68,305.14 327.03,305.46 328.38,305.79 329.73,306.11 331.08,306.44 332.43,306.76 333.77,307.09 335.12,307.41 336.47,307.73 337.82,308.06 339.17,308.38 340.52,308.7 341.87,309.02 343.21,309.34 344.56,309.67 345.91,309.99 347.26,310.31 348.61,310.63 349.96,310.96 351.3,311.28 352.65,311.6 354,311.92 355.35,312.25 356.7,312.57 358.05,312.89 359.39,313.22 360.74,313.54 362.09,313.86 363.44,314.19 364.79,314.51 366.14,314.84 367.49,315.17 368.83,315.49 370.18,315.82 371.53,316.15 372.88,316.48 374.23,316.81 375.58,317.14 376.92,317.47 378.27,317.8 379.62,318.13 380.97,318.46 382.32,318.8 383.67,319.13 385.02,319.47 386.36,319.81 387.71,320.14 389.06,320.48 390.41,320.82 391.76,321.16 393.11,321.51 394.45,321.85 395.8,322.19 397.15,322.54 398.5,322.89 399.85,323.24 401.2,323.59 402.54,323.94 403.89,324.29 405.24,324.64 406.59,325 407.94,325.36 409.29,325.72 410.64,326.08 411.98,326.44 413.33,326.8 414.68,327.17 416.03,327.53 417.38,327.9 418.73,328.27 420.07,328.64 421.42,329.02 422.77,329.39 424.12,329.77 425.47,330.15 426.82,330.53 428.16,330.92 429.51,331.31 430.86,331.7 432.21,332.09 433.56,332.49 434.91,332.9 436.26,333.3 437.6,333.72 438.95,334.13 440.3,334.56 441.65,334.98 443,335.42 444.35,335.86 445.69,336.3 447.04,336.76 448.39,337.22 449.74,337.68 451.09,338.16 452.44,338.64 453.78,339.13 455.13,339.63 456.48,340.14 457.83,340.66 459.18,341.18 460.53,341.72 461.88,342.26 463.22,342.82 464.57,343.38 465.92,343.96 467.27,344.55 468.62,345.14 469.97,345.75 471.31,346.37 472.66,347.01 474.01,347.65 475.36,348.31 476.71,348.98 478.06,349.67 479.41,350.37 480.75,351.08 482.1,351.8 483.45,352.54 484.8,353.3 486.15,354.07 487.5,354.85 488.84,355.65 490.19,356.46 491.54,357.3 492.89,358.14 494.24,359.01 495.59,359.89 496.93,360.79 498.28,361.7 499.63,362.63 500.98,363.59 502.33,364.55 503.68,365.54 505.03,366.55 506.37,367.57 507.72,368.62 509.07,369.68 510.42,370.77 511.77,371.87 513.12,373 514.46,374.14 515.81,375.31 517.16,376.5 518.51,377.71 519.86,378.94 521.21,380.19 522.55,381.47 523.9,382.77 525.25,384.09 526.6,385.44' fill='none' stroke='#6cc03a' stroke-width='1.3'/><g fill='#72c43c'><circle cx='313.8' cy='302.25' r='2.6'/><circle cx='321.6' cy='304.15' r='2.6'/><circle cx='329.4' cy='306.04' r='2.6'/><circle cx='337.2' cy='307.91' r='2.6'/><circle cx='345' cy='309.77' r='2.6'/><circle cx='352.8' cy='311.64' r='2.6'/><circle cx='360.6' cy='313.51' r='2.6'/><circle cx='368.4' cy='315.39' r='2.6'/><circle cx='376.2' cy='317.29' r='2.6'/><circle cx='384' cy='319.22' r='2.6'/><circle cx='391.8' cy='321.18' r='2.6'/><circle cx='399.6' cy='323.17' r='2.6'/><circle cx='407.4' cy='325.21' r='2.6'/><circle cx='415.2' cy='327.31' r='2.6'/><circle cx='423' cy='329.46' r='2.6'/><circle cx='430.8' cy='331.68' r='2.6'/><circle cx='438.6' cy='334.02' r='2.6'/><circle cx='446.4' cy='336.54' r='2.6'/><circle cx='454.2' cy='339.29' r='2.6'/><circle cx='462' cy='342.31' r='2.6'/><circle cx='469.8' cy='345.68' r='2.6'/><circle cx='477.6' cy='349.43' r='2.6'/><circle cx='485.4' cy='353.64' r='2.6'/><circle cx='493.2' cy='358.34' r='2.6'/><circle cx='501' cy='363.6' r='2.6'/><circle cx='508.8' cy='369.47' r='2.6'/><circle cx='516.6' cy='376' r='2.6'/><circle cx='524.4' cy='383.25' r='2.6'/></g>
</g>
<rect x='312.2' y='222.9' width='224.8' height='163.6' fill='none' stroke='#111' stroke-width='1.7'/>
<path d='M312.2,386.5h4.8 M312.2,360.47h3.2 M312.2,334.44h4.8 M312.2,308.41h3.2 M312.2,282.38h4.8 M312.2,256.35h3.2 M312.2,230.32h4.8 M334.68,386.5v-3.5 M357.16,386.5v-4.5 M379.64,386.5v-3.5 M402.12,386.5v-4.5 M424.6,386.5v-3.5 M447.08,386.5v-4.5 M469.56,386.5v-3.5 M492.04,386.5v-4.5 M514.52,386.5v-3.5' stroke='#111' stroke-width='1.4' fill='none'/>
<text x='307.8' y='390.1' font-family='Liberation Sans, Arial, sans-serif' font-size='10' fill='#1e1e1e' stroke='#1e1e1e' stroke-width='0.35' text-anchor='end'>0</text>
<text x='307.8' y='338.04' font-family='Liberation Sans, Arial, sans-serif' font-size='10' fill='#1e1e1e' stroke='#1e1e1e' stroke-width='0.35' text-anchor='end'>2</text>
<text x='307.8' y='285.98' font-family='Liberation Sans, Arial, sans-serif' font-size='10' fill='#1e1e1e' stroke='#1e1e1e' stroke-width='0.35' text-anchor='end'>4</text>
<text x='307.8' y='233.92' font-family='Liberation Sans, Arial, sans-serif' font-size='10' fill='#1e1e1e' stroke='#1e1e1e' stroke-width='0.35' text-anchor='end'>6</text>
<text x='312.2' y='400.3' font-family='Liberation Sans, Arial, sans-serif' font-size='10' fill='#1e1e1e' stroke='#1e1e1e' stroke-width='0.35' text-anchor='middle'>0.0</text>
<text x='357.16' y='400.3' font-family='Liberation Sans, Arial, sans-serif' font-size='10' fill='#1e1e1e' stroke='#1e1e1e' stroke-width='0.35' text-anchor='middle'>0.1</text>
<text x='402.12' y='400.3' font-family='Liberation Sans, Arial, sans-serif' font-size='10' fill='#1e1e1e' stroke='#1e1e1e' stroke-width='0.35' text-anchor='middle'>0.2</text>
<text x='447.08' y='400.3' font-family='Liberation Sans, Arial, sans-serif' font-size='10' fill='#1e1e1e' stroke='#1e1e1e' stroke-width='0.35' text-anchor='middle'>0.3</text>
<text x='492.04' y='400.3' font-family='Liberation Sans, Arial, sans-serif' font-size='10' fill='#1e1e1e' stroke='#1e1e1e' stroke-width='0.35' text-anchor='middle'>0.4</text>
<text x='537' y='400.3' font-family='Liberation Sans, Arial, sans-serif' font-size='10' fill='#1e1e1e' stroke='#1e1e1e' stroke-width='0.35' text-anchor='middle'>0.5</text>
<text x='395' y='416.8' font-family='Liberation Sans, Arial, sans-serif' font-size='10' fill='#1e1e1e' stroke='#1e1e1e' stroke-width='0.3' >Voltage (V)</text>
<text transform='translate(295.6,364.5) rotate(-90)' font-family='Liberation Sans, Arial, sans-serif' font-size='10.3' fill='#1e1e1e' stroke='#1e1e1e' stroke-width='0.3'>Current Density (mA cm<tspan font-size='6.5' dy='-7'>-2</tspan><tspan dy='7' dx='-0.8'>)</tspan></text>
<text x='331.8' y='254' font-family='Liberation Sans, Arial, sans-serif' font-size='8.2' fill='#2a2a2a' stroke='#2a2a2a' stroke-width='0.25' >(i)</text>
<text x='332.4' y='279' font-family='Liberation Sans, Arial, sans-serif' font-size='8.2' fill='#2a2a2a' stroke='#2a2a2a' stroke-width='0.25' >(ii)</text>
<text x='332.4' y='297' font-family='Liberation Sans, Arial, sans-serif' font-size='8.2' fill='#2a2a2a' stroke='#2a2a2a' stroke-width='0.25' >(iii)</text>
<text x='332.4' y='320' font-family='Liberation Sans, Arial, sans-serif' font-size='8.2' fill='#2a2a2a' stroke='#2a2a2a' stroke-width='0.25' >(iv)</text>
<rect x='377.6' y='225.9' width='157.9' height='42' fill='#fff' stroke='#333' stroke-width='1.3'/>
<line x1='380.6' y1='232.2' x2='397' y2='232.2' stroke='#111' stroke-width='1.6'/><circle cx='388.3' cy='232.2' r='3.3' fill='#111'/>
<text x='400.8' y='235.4' font-family='Liberation Sans, Arial, sans-serif' font-size='8.75' fill='#1a1a1a' stroke='#1a1a1a' stroke-width='0.45' >(i) PEDOT:PSS/Poly-TPD reverse</text>
<line x1='380.6' y1='241.98' x2='397' y2='241.98' stroke='#e8202c' stroke-width='1.6'/><circle cx='388.3' cy='241.98' r='3.3' fill='#e8202c'/>
<text x='400.8' y='245.18' font-family='Liberation Sans, Arial, sans-serif' font-size='8.75' fill='#1a1a1a' stroke='#1a1a1a' stroke-width='0.45' >(ii) PEDOT:PSS/Poly-TPD forward</text>
<line x1='380.6' y1='251.76' x2='397' y2='251.76' stroke='#4456c6' stroke-width='1.6'/><circle cx='388.3' cy='251.76' r='3.3' fill='#4456c6'/>
<text x='400.8' y='254.96' font-family='Liberation Sans, Arial, sans-serif' font-size='8.75' fill='#1a1a1a' stroke='#1a1a1a' stroke-width='0.45' >(iii)PEDOT:PSS reverse</text>
<line x1='380.6' y1='261.54' x2='397' y2='261.54' stroke='#6cc23a' stroke-width='1.6'/><circle cx='388.3' cy='261.54' r='3.3' fill='#6cc23a'/>
<text x='400.8' y='264.74' font-family='Liberation Sans, Arial, sans-serif' font-size='8.75' fill='#1a1a1a' stroke='#1a1a1a' stroke-width='0.45' >(iv)PEDOT:PSS forward</text>
</svg></body></html>
